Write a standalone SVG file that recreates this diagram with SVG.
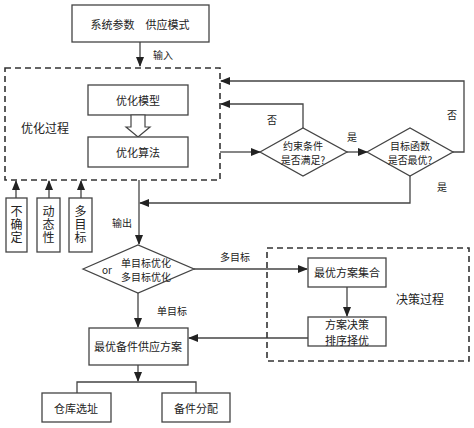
<svg xmlns="http://www.w3.org/2000/svg" width="474" height="428" viewBox="0 0 474 428">
<defs>
<marker id="ah" markerWidth="10" markerHeight="8" refX="9" refY="4" orient="auto" markerUnits="userSpaceOnUse">
<path d="M0,0 L10,4 L0,8 Z" fill="#222"/>
</marker>
<style>
.b{fill:#fff;stroke:#444;stroke-width:1.3}
.d{fill:none;stroke:#333;stroke-width:1.6;stroke-dasharray:6,4}
.l{fill:none;stroke:#444;stroke-width:1.3}
.a{fill:none;stroke:#444;stroke-width:1.3;marker-end:url(#ah)}
text{font-family:"Noto Sans CJK SC","Liberation Sans",sans-serif;fill:#222;text-anchor:middle;dominant-baseline:central}
.t{font-size:11px}
.s{font-size:10px}
.m{font-size:12px}
.v{font-size:12px;writing-mode:vertical-rl;letter-spacing:1px}
</style>
</defs>
<rect width="474" height="428" fill="#fff"/>
<g id="connectors">
<path class="a" d="M140,42 V66"/>
<path class="l" d="M220,152 H250"/>
<path class="a" d="M250,152 H260"/>
<path class="a" d="M347,152 H367"/>
<path class="a" d="M303,128 V104 H221"/>
<path class="a" d="M453,152 H464 V81 H221"/>
<path class="a" d="M410,176 V203 H140"/>
<path class="a" d="M139,180 V244"/>
<path class="a" d="M194,269 H307"/>
<path class="a" d="M347,287 V316"/>
<path class="a" d="M308,338 H189"/>
<path class="a" d="M138,293 V327"/>
<path class="a" d="M138,365 V381"/>
<path class="l" d="M77,393 V382 H196 V393"/>
<path class="a" d="M16,198 V181"/>
<path class="a" d="M49,198 V181"/>
<path class="a" d="M81,198 V181"/>
</g>
<g id="labels">
<text class="s" x="163" y="54">输入</text>
<text class="s" x="122" y="222">输出</text>
<text class="s" x="272" y="119">否</text>
<text class="s" x="452" y="114">否</text>
<text class="s" x="352" y="136">是</text>
<text class="s" x="442" y="186">是</text>
<text class="s" x="235" y="256">多目标</text>
<text class="s" x="172" y="310">单目标</text>
</g>
<g id="n-input"><rect class="b" x="72" y="5" width="137" height="37"/><text class="t" x="140" y="24">系统参数　供应模式</text></g>
<g id="n-opt"><rect class="d" x="5" y="68" width="215" height="112"/><text class="m" x="45" y="127">优化过程</text></g>
<g id="n-model"><rect class="b" x="88" y="85" width="100" height="30"/><text class="t" x="138" y="100">优化模型</text></g>
<g id="n-hollow"><path d="M131,115 H145 V127 H150 L138,137 L126,127 H131 Z" fill="#fff" stroke="#444" stroke-width="1.2"/></g>
<g id="n-algo"><rect class="b" x="88" y="137" width="100" height="30"/><text class="t" x="138" y="152">优化算法</text></g>
<g id="n-c1"><rect class="b" x="6" y="198" width="21" height="54"/><text class="v" x="16.500" y="225">不确定</text></g>
<g id="n-c2"><rect class="b" x="37" y="198" width="23" height="54"/><text class="v" x="48.500" y="225">动态性</text></g>
<g id="n-c3"><rect class="b" x="69" y="198" width="23" height="54"/><text class="v" x="80.500" y="225">多目标</text></g>
<g id="n-cons"><path class="b" d="M260,152 L303,128 L347,152 L303,176 Z"/><text class="s"><tspan x="303" y="145">约束条件</tspan><tspan x="303" y="159">是否满足?</tspan></text></g>
<g id="n-obj"><path class="b" d="M367,152 L410,128 L453,152 L410,176 Z"/><text class="s"><tspan x="410" y="145">目标函数</tspan><tspan x="410" y="159">是否最优?</tspan></text></g>
<g id="n-or"><path class="b" d="M83,269 L138,245 L194,269 L138,293 Z"/><text class="s" x="107" y="269">or</text><text class="s"><tspan x="146" y="261.500">单目标优化</tspan><tspan x="146" y="275.500">多目标优化</tspan></text></g>
<g id="n-dec"><rect class="d" x="267" y="248" width="202" height="113"/><text class="m" x="420" y="298">决策过程</text></g>
<g id="n-set"><rect class="b" x="308" y="258" width="78" height="29"/><text class="t" x="347" y="272">最优方案集合</text></g>
<g id="n-rank"><rect class="b" x="308" y="317" width="78" height="29"/><text class="t"><tspan x="347" y="324">方案决策</tspan><tspan x="347" y="339.500">排序择优</tspan></text></g>
<g id="n-best"><rect class="b" x="89" y="328" width="99" height="37"/><text class="t" x="138" y="346">最优备件供应方案</text></g>
<g id="n-wh"><rect class="b" x="42" y="393" width="69" height="29"/><text class="t" x="76" y="408">仓库选址</text></g>
<g id="n-alloc"><rect class="b" x="162" y="393" width="68" height="29"/><text class="t" x="196" y="408">备件分配</text></g>
</svg>
